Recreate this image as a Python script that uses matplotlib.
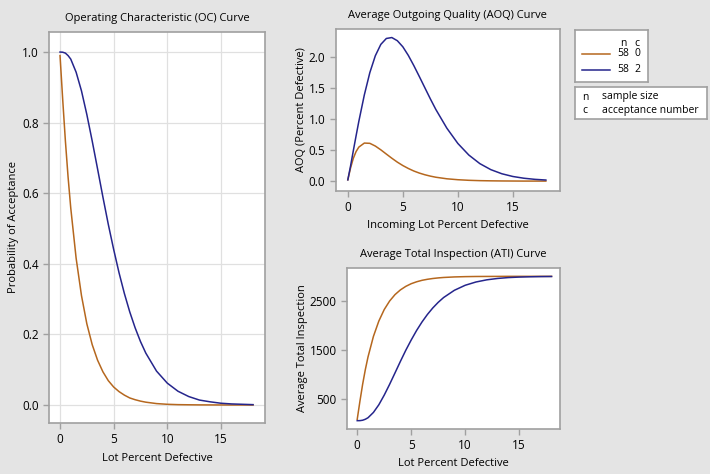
import matplotlib
matplotlib.use("Agg")
import matplotlib.pyplot as plt

# lot percent defective at which the curves were read
pct = [0, 0.25, 0.5, 0.75, 1, 1.5, 2, 2.5, 3, 3.5, 4, 4.5, 5, 5.5, 6, 6.5,
       7, 7.5, 8, 9, 10, 11, 12, 13, 14, 15, 16, 17, 18]

# probability of acceptance
oc_c0 = [0.99, 0.865, 0.748, 0.646, 0.558, 0.416, 0.310, 0.230, 0.171, 0.127,
         0.094, 0.069, 0.051, 0.038, 0.028, 0.020, 0.015, 0.011, 0.008, 0.004,
         0.002, 0.001, 0.0006, 0.0003, 0.0002, 0.0001, 0.0, 0.0, 0.0]
oc_c2 = [1.0, 0.9996, 0.997, 0.990, 0.980, 0.943, 0.890, 0.823, 0.748, 0.669,
         0.589, 0.512, 0.441, 0.375, 0.316, 0.264, 0.219, 0.180, 0.147, 0.096,
         0.062, 0.039, 0.024, 0.014, 0.009, 0.005, 0.003, 0.002, 0.001]

# average outgoing quality (percent defective)
aoq_c0 = [0.02, 0.212, 0.367, 0.475, 0.547, 0.612, 0.608, 0.564, 0.503, 0.435,
          0.368, 0.305, 0.250, 0.203, 0.162, 0.129, 0.102, 0.080, 0.062, 0.037,
          0.022, 0.0125, 0.007, 0.004, 0.002, 0.001, 0.0, 0.0, 0.0]
aoq_c2 = [0.02, 0.245, 0.489, 0.728, 0.961, 1.387, 1.746, 2.018, 2.201, 2.296,
          2.311, 2.260, 2.162, 2.023, 1.859, 1.683, 1.503, 1.324, 1.153, 0.852,
          0.606, 0.419, 0.281, 0.184, 0.118, 0.074, 0.046, 0.028, 0.017]

# average total inspection
ati_c0 = [87, 455, 799, 1099, 1358, 1776, 2088, 2323, 2497, 2628, 2724, 2796,
          2850, 2889, 2919, 2940, 2956, 2968, 2977, 2988, 2994, 2997, 2998,
          2999, 3000, 3000, 3000, 3000, 3000]
ati_c2 = [58, 59, 67, 87, 118, 226, 382, 579, 799, 1032, 1267, 1494, 1703,
          1897, 2070, 2223, 2356, 2470, 2568, 2716, 2818, 2885, 2929, 2957,
          2975, 2985, 2991, 2995, 2997]

plans = [("58", "0"), ("58", "2")]

ORANGE = "#b5671e"
NAVY = "#25258c"
BG = "#e4e4e4"
SPINE = "#a0a0a0"

plt.rcParams["font.family"] = ["Open Sans", "DejaVu Sans"]

fig = plt.figure(figsize=(7.1, 4.74), dpi=100, facecolor=BG)


def style(ax):
    ax.set_facecolor("white")
    for s in ax.spines.values():
        s.set_color(SPINE)
        s.set_linewidth(1.2)
    ax.tick_params(colors=SPINE, labelcolor="black", labelsize=8.5, length=4,
                   width=1)


# OC curve
ax1 = fig.add_axes([0.069, 0.1076, 0.304, 0.825])
style(ax1)
ax1.grid(color="#e0e0e0", lw=0.9)
ax1.set_axisbelow(True)
ax1.plot(pct, oc_c0, color=ORANGE, lw=1.1)
ax1.plot(pct, oc_c2, color=NAVY, lw=1.1)
ax1.set_xlim(-1.03, 19.1)
ax1.set_ylim(-0.051, 1.057)
ax1.set_xticks([0, 5, 10, 15])
ax1.set_yticks([0, 0.2, 0.4, 0.6, 0.8, 1.0])
ax1.set_yticklabels(["0.0", "0.2", "0.4", "0.6", "0.8", "1.0"])
ax1.set_title("Operating Characteristic (OC) Curve", fontsize=8, pad=8)
ax1.set_xlabel("Lot Percent Defective", fontsize=8, labelpad=5)
ax1.set_ylabel("Probability of Acceptance", fontsize=8, labelpad=2)

# AOQ curve
ax2 = fig.add_axes([0.473, 0.597, 0.3155, 0.342])
style(ax2)
ax2.plot(pct, aoq_c0, color=ORANGE, lw=1.1)
ax2.plot(pct, aoq_c2, color=NAVY, lw=1.1)
ax2.set_xlim(-1.09, 19.27)
ax2.set_ylim(-0.16, 2.45)
ax2.set_xticks([0, 5, 10, 15])
ax2.set_yticks([0, 0.5, 1.0, 1.5, 2.0])
ax2.set_yticklabels(["0.0", "0.5", "1.0", "1.5", "2.0"])
ax2.set_title("Average Outgoing Quality (AOQ) Curve", fontsize=8, pad=8)
ax2.set_xlabel("Incoming Lot Percent Defective", fontsize=8)
ax2.set_ylabel("AOQ (Percent Defective)", fontsize=8, labelpad=1)

# ATI curve
ax3 = fig.add_axes([0.489, 0.0949, 0.300, 0.340])
style(ax3)
ax3.plot(pct, ati_c0, color=ORANGE, lw=1.1)
ax3.plot(pct, ati_c2, color=NAVY, lw=1.1)
ax3.set_xlim(-0.93, 18.8)
ax3.set_ylim(-112, 3173)
ax3.set_xticks([0, 5, 10, 15])
ax3.set_yticks([500, 1500, 2500])
ax3.set_title("Average Total Inspection (ATI) Curve", fontsize=8, pad=8)
ax3.set_xlabel("Lot Percent Defective", fontsize=8)
ax3.set_ylabel("Average Total Inspection", fontsize=8, labelpad=1)

# legend box with the plans
lg = fig.add_axes([575 / 710, 1 - 82 / 474, 73 / 710, 52 / 474])
style(lg)
lg.set_xticks([]); lg.set_yticks([])
lg.set_xlim(0, 73); lg.set_ylim(52, 0)
lg.text(48, 13, "n", fontsize=7.5, ha="center", va="center")
lg.text(62, 13, "c", fontsize=7.5, ha="center", va="center")
for k, ((n, c), col) in enumerate(zip(plans, [ORANGE, NAVY])):
    yy = 24 + 16 * k
    lg.plot([7, 35], [yy, yy], color=col, lw=1.1)
    lg.text(48, yy, n, fontsize=7.5, ha="center", va="center")
    lg.text(62, yy, c, fontsize=7.5, ha="center", va="center")

# key box
kb = fig.add_axes([575 / 710, 1 - 119 / 474, 132 / 710, 32 / 474])
style(kb)
kb.set_xticks([]); kb.set_yticks([])
kb.set_xlim(0, 132); kb.set_ylim(32, 0)
kb.text(10, 10, "n", fontsize=7.5, ha="center", va="center")
kb.text(27, 10, "sample size", fontsize=7.5, va="center")
kb.text(10, 24, "c", fontsize=7.5, ha="center", va="center")
kb.text(27, 24, "acceptance number", fontsize=7.5, va="center")

fig.savefig("out.png", dpi=100, facecolor=BG)
